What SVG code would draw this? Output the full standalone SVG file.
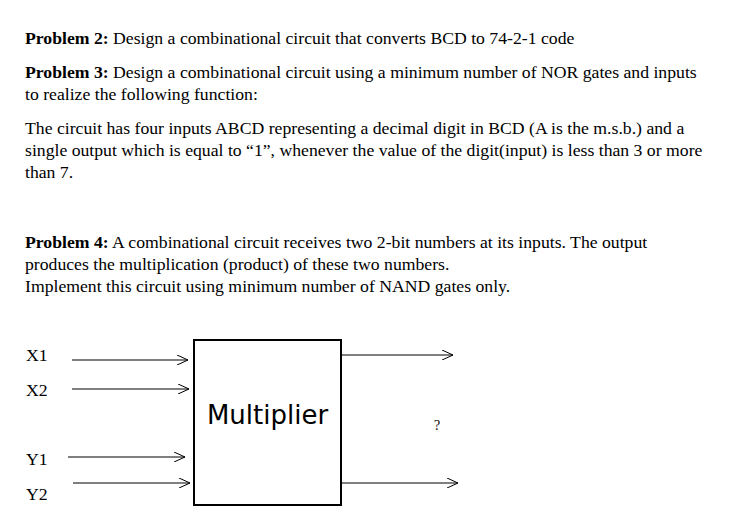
<svg xmlns="http://www.w3.org/2000/svg" width="733" height="515" viewBox="0 0 733 515">
<defs>
<marker id="ah" markerWidth="12" markerHeight="10" refX="11" refY="5" orient="auto" markerUnits="userSpaceOnUse">
<path d="M0,0 L11,5 L0,10" fill="none" stroke="#000" stroke-width="1"/>
</marker>
<style>
text{font-family:"Liberation Serif",serif;font-size:17.7px;fill:#000}
.b{font-weight:bold}
.w{stroke:#000;stroke-width:1.2;fill:none;marker-end:url(#ah)}
.m{font-family:"DejaVu Sans","Liberation Sans",sans-serif;font-size:26px}
</style>
</defs>
<rect width="733" height="515" fill="#fff"/>
<text x="25" y="44"><tspan class="b">Problem 2:</tspan> Design a combinational circuit that converts BCD to 74-2-1 code</text>
<text x="25" y="78"><tspan class="b">Problem 3:</tspan> Design a combinational circuit using a minimum number of NOR gates and inputs</text>
<text x="25" y="100">to realize the following function:</text>
<text x="25" y="134">The circuit has four inputs ABCD representing a decimal digit in BCD (A is the m.s.b.) and a</text>
<text x="25" y="156">single output which is equal to “1”, whenever the value of the digit(input) is less than 3 or more</text>
<text x="25" y="178">than 7.</text>
<text x="25" y="248"><tspan class="b">Problem 4:</tspan> A combinational circuit receives two 2-bit numbers at its inputs. The output</text>
<text x="25" y="270">produces the multiplication (product) of these two numbers.</text>
<text x="25" y="292">Implement this circuit using minimum number of NAND gates only.</text>
<g id="labels">
<text x="26" y="361">X1</text>
<text x="26" y="396">X2</text>
<text x="26" y="465">Y1</text>
<text x="26" y="500">Y2</text>
<text x="434" y="430" style="font-size:14px">?</text>
</g>
<g id="multiplier">
<rect x="194" y="340" width="147" height="165" fill="#fff" stroke="#000" stroke-width="2"/>
<text x="267.5" y="424" class="m" text-anchor="middle">Multiplier</text>
</g>
<g id="connectors">
<line class="w" x1="72" y1="360" x2="188" y2="360"/>
<line class="w" x1="72" y1="389" x2="189" y2="389"/>
<line class="w" x1="68" y1="457" x2="185" y2="457"/>
<line class="w" x1="73" y1="483" x2="190" y2="483"/>
<line class="w" x1="341" y1="355" x2="453" y2="355"/>
<line class="w" x1="342" y1="483" x2="458" y2="483"/>
</g>
</svg>
